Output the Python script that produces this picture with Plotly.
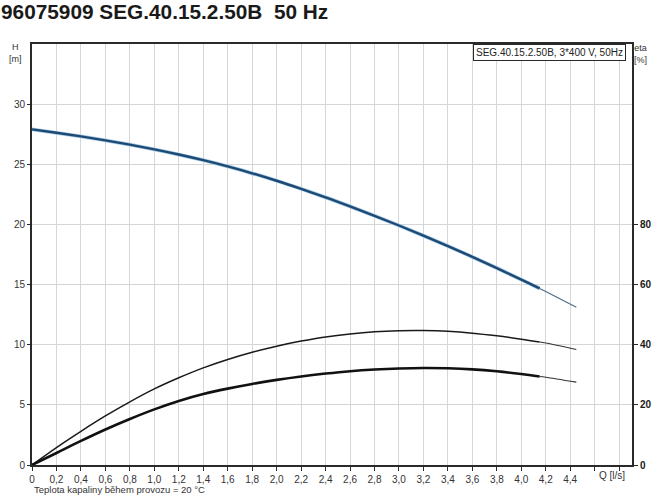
import plotly.graph_objects as go

# ---- data ----
TITLE = "96075909 SEG.40.15.2.50B  50 Hz"
LEGEND_TEXT = "SEG.40.15.2.50B, 3*400 V, 50Hz"
FOOTER = "Teplota kapaliny během provozu = 20 °C"

Q = [0.0, 0.2, 0.4, 0.6, 0.8, 1.0, 1.2, 1.4, 1.6, 1.8, 2.0, 2.2, 2.4, 2.6, 2.8,
     3.0, 3.2, 3.4, 3.6, 3.8, 4.0, 4.15, 4.2, 4.45]
H = [27.9, 27.62, 27.32, 26.99, 26.63, 26.24, 25.81, 25.34, 24.82, 24.25, 23.63,
     22.96, 22.25, 21.5, 20.72, 19.91, 19.07, 18.2, 17.3, 16.37, 15.41, 14.68,
     14.42, 13.12]
ETA = [0.0, 5.8, 11.2, 16.3, 21.0, 25.3, 29.0, 32.3, 35.1, 37.5, 39.5, 41.2, 42.6,
       43.6, 44.3, 44.65, 44.7, 44.45, 43.85, 42.95, 41.85, 40.9, 40.55, 38.4]
ETA_TOT = [0.0, 4.0, 8.0, 11.8, 15.3, 18.5, 21.3, 23.6, 25.4, 26.95, 28.3, 29.45,
           30.4, 31.2, 31.75, 32.1, 32.25, 32.15, 31.8, 31.15, 30.25, 29.45, 29.2,
           27.55]
Q_DUTY_END = 4.15

X_TICKS = [0.0, 0.2, 0.4, 0.6, 0.8, 1.0, 1.2, 1.4, 1.6, 1.8, 2.0, 2.2, 2.4, 2.6,
           2.8, 3.0, 3.2, 3.4, 3.6, 3.8, 4.0, 4.2, 4.4, 4.6, 4.8]
X_LABELS = ["0", "0,2", "0,4", "0,6", "0,8", "1,0", "1,2", "1,4", "1,6", "1,8",
            "2,0", "2,2", "2,4", "2,6", "2,8", "3,0", "3,2", "3,4", "3,6", "3,8",
            "4,0", "4,2", "4,4", "", ""]
H_TICKS = [0, 5, 10, 15, 20, 25, 30]
ETA_TICKS = [0, 20, 40, 60, 80]

FONT = "Liberation Sans, Arial, sans-serif"


def split(xs, ys, limit):
    a = [(x, y) for x, y in zip(xs, ys) if x <= limit]
    b = [(x, y) for x, y in zip(xs, ys) if x >= limit]
    return ([p[0] for p in a], [p[1] for p in a]), ([p[0] for p in b], [p[1] for p in b])


fig = go.Figure()

(hq1, hv1), (hq2, hv2) = split(Q, H, Q_DUTY_END)
(eq1, ev1), (eq2, ev2) = split(Q, ETA, Q_DUTY_END)
(tq1, tv1), (tq2, tv2) = split(Q, ETA_TOT, Q_DUTY_END)

# H curve: light halo + dark blue
fig.add_trace(go.Scatter(x=hq1, y=hv1, mode="lines", line=dict(color="#a8cbe6", width=3.8, shape="spline"),
                         hoverinfo="skip", showlegend=False))
fig.add_trace(go.Scatter(x=hq1, y=hv1, mode="lines", line=dict(color="#1c4a74", width=2.4, shape="spline"),
                         showlegend=False))
fig.add_trace(go.Scatter(x=hq2, y=hv2, mode="lines", line=dict(color="#4a6a88", width=1.1, shape="spline"),
                         showlegend=False))

# eta curves (right axis)
fig.add_trace(go.Scatter(x=eq1, y=ev1, mode="lines", yaxis="y2",
                         line=dict(color="#1a1a1a", width=1.5, shape="spline"), showlegend=False))
fig.add_trace(go.Scatter(x=eq2, y=ev2, mode="lines", yaxis="y2",
                         line=dict(color="#333333", width=1.1, shape="spline"), showlegend=False))
fig.add_trace(go.Scatter(x=tq1, y=tv1, mode="lines", yaxis="y2",
                         line=dict(color="#111111", width=2.6, shape="spline"), showlegend=False))
fig.add_trace(go.Scatter(x=tq2, y=tv2, mode="lines", yaxis="y2",
                         line=dict(color="#333333", width=1.1, shape="spline"), showlegend=False))

L, R, T, B = 32, 23, 44, 34
fig.update_layout(
    width=655, height=499,
    margin=dict(l=L, r=R, t=T, b=B),
    paper_bgcolor="white", plot_bgcolor="white",
    font=dict(family=FONT, size=10, color="#333333"),
    separators=",.",
    title=dict(text="<b>" + TITLE + "</b>", x=1 / 655, xanchor="left", xref="container",
               y=1 - 11.5 / 499, yanchor="middle", yref="container",
               font=dict(family=FONT, size=20.8, color="#1a1a1a")),
    xaxis=dict(range=[0, 4.905], tickvals=X_TICKS, ticktext=X_LABELS, automargin=False,
               showgrid=True, gridcolor="#d6d6d6", gridwidth=1,
               showline=True, linecolor="#2a2a2a", linewidth=2, mirror=True,
               ticks="outside", ticklen=4, tickcolor="#2a2a2a",
               tickfont=dict(size=10, color="#333333"), zeroline=False),
    yaxis=dict(range=[0, 35], tickvals=H_TICKS, automargin=False,
               showgrid=True, gridcolor="#d6d6d6", gridwidth=1,
               showline=True, linecolor="#2a2a2a", linewidth=2, mirror=True,
               ticks="outside", ticklen=3, tickcolor="#2a2a2a",
               tickfont=dict(size=10, color="#333333"), zeroline=False),
    yaxis2=dict(range=[0, 140], tickvals=ETA_TICKS, overlaying="y", side="right",
                automargin=False,
                showgrid=False, showline=True, linecolor="#2a2a2a", linewidth=2,
                ticks="outside", ticklen=4, tickcolor="#2a2a2a",
                tickfont=dict(size=10, color="#1a1a1a", weight="bold"), zeroline=False),
)

px_w = 655 - L - R
px_h = 499 - T - B

fig.add_annotation(text=LEGEND_TEXT, xref="paper", yref="paper",
                   x=(626 - L) / px_w, y=1, xanchor="right", yanchor="top",
                   showarrow=False, font=dict(size=10, color="#222222"),
                   bordercolor="#2a2a2a", borderwidth=1, borderpad=2, bgcolor="white")
fig.add_annotation(text="H<br>[m]", xref="paper", yref="paper",
                   x=(15 - L) / px_w, y=(465 - 53) / px_h, xanchor="center", yanchor="middle",
                   showarrow=False, font=dict(size=9, color="#333333"))
fig.add_annotation(text="eta<br>[%]", xref="paper", yref="paper",
                   x=(641 - L) / px_w, y=(465 - 54) / px_h, xanchor="center", yanchor="middle",
                   showarrow=False, font=dict(size=9, color="#333333"))
fig.add_annotation(text="Q [l/s]", xref="paper", yref="paper",
                   x=(611.5 - L) / px_w, y=(465 - 475) / px_h, xanchor="center", yanchor="middle",
                   showarrow=False, font=dict(size=10, color="#333333"))
fig.add_annotation(text=FOOTER, xref="paper", yref="paper",
                   x=0, y=(465 - 489) / px_h, xanchor="left", yanchor="middle",
                   showarrow=False, font=dict(size=9.5, color="#333333"))

fig.write_html("out.html")
